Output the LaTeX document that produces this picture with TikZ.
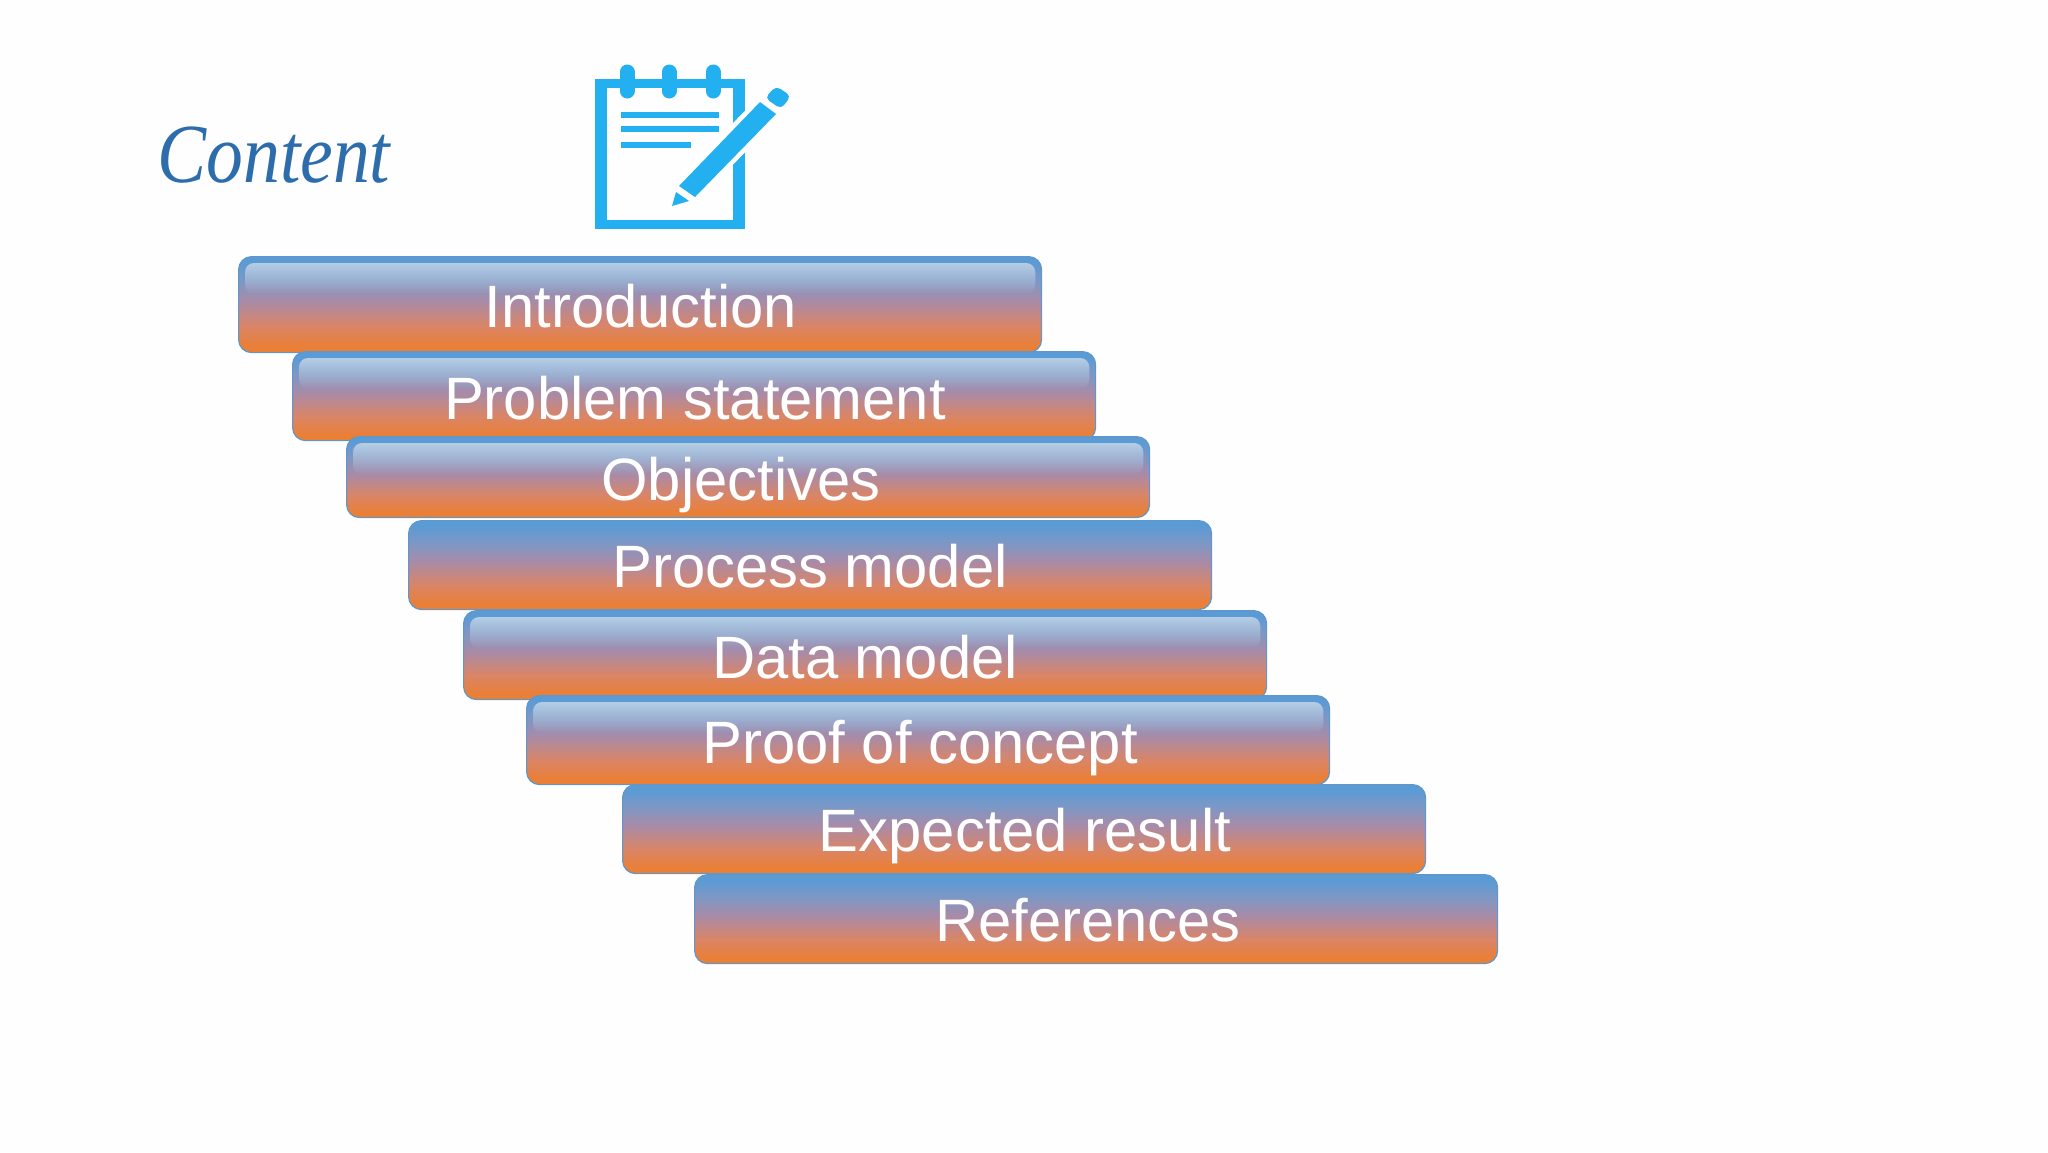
\documentclass[tikz,border=0pt]{standalone}
\usepackage{fontspec}
\usetikzlibrary{fadings}
\setmainfont{Liberation Sans}
\newfontfamily\titlefont{Liberation Serif}
\definecolor{iconblue}{HTML}{22B0F0}
\definecolor{titleblue}{HTML}{2E6DAB}
\definecolor{barblue}{HTML}{5B9BD5}
\definecolor{barblend}{HTML}{7F97C4}
\definecolor{barpurple}{HTML}{A88BA8}
\definecolor{barsalmon}{HTML}{D98568}
\definecolor{barorange}{HTML}{EA7F36}
\definecolor{glosstint}{HTML}{DCE3EC}
\definecolor{paperwhite}{HTML}{FEFEFE}
\pgfdeclareverticalshading{bargrad}{100bp}{
  color(0bp)=(barorange); color(25bp)=(barorange); color(28bp)=(barorange);
  color(39bp)=(barsalmon); color(52bp)=(barpurple); color(62bp)=(barblend);
  color(72bp)=(barblue); color(100bp)=(barblue)}
\tikzfading[name=glossfade, top color=transparent!30, bottom color=transparent!100]
\tikzset{
  x=0.5pt, y=-0.5pt,
  barbox/.style={rectangle, rounded corners=6.5pt, shading=bargrad, draw=barblue!85!gray,
    line width=0.6pt, minimum width=401.5pt, inner sep=0pt, anchor=north west},
  barlabel/.style={text=white, font=\fontsize{29.9}{32}\selectfont, anchor=base, inner sep=0pt},
  gloss/.style={fill=glosstint, path fading=glossfade, rounded corners=4.5pt},
  icon/.style={draw=iconblue, line width=5pt},
  ruleline/.style={draw=iconblue, line width=2.8pt},
  ring/.style={draw=iconblue, line width=7.5pt, line cap=round},
}
\newcommand{\glossover}[1]{\fill[gloss] ([shift={(7,7)}]#1.north west) rectangle ([shift={(-7,38)}]#1.north east);}
\begin{document}
\begin{tikzpicture}
\useasboundingbox (0,0) rectangle (2048,1152);
\fill[paperwhite] (0,0) rectangle (2048,1152);

\node[text=titleblue, font=\titlefont\itshape\fontsize{42}{46}\selectfont, anchor=base west, inner sep=0pt, xscale=0.876] (title) at (157,182) {Content};

% notepad
\draw[iconblue, line width=0pt, fill=iconblue, even odd rule]
  (595,79) rectangle (744,228) (606,87) rectangle (733,220);
\draw[ring] (627,72) -- (627,91);
\draw[ring] (669,72) -- (669,91);
\draw[ring] (713,72) -- (713,91);
\draw[ruleline] (621,115) -- (719,115);
\draw[ruleline] (621,129) -- (719,129);
\draw[ruleline] (621,145) -- (691,145);
% pencil
\draw[white, line width=14.5pt] (690,188) -- (766,110);
\fill[iconblue] (679,186) -- (695,197) -- (776,114) -- (760,102) -- cycle;
\fill[iconblue, rounded corners=2.5pt] (765,98) -- (776,86) -- (791,96) -- (781,109) -- cycle;
\fill[iconblue] (676,192) -- (689,201) -- (672,206) -- cycle;

% bars
\node[barbox, minimum height=48pt] (b1) at (238,256) {};
\glossover{b1}
\node[barbox, minimum height=44.5pt] (b2) at (292,351) {};
\glossover{b2}
\node[barbox, minimum height=40.5pt] (b3) at (346,436) {};
\glossover{b3}
\node[barbox, minimum height=44.5pt] (b4) at (408,520) {};
\node[barbox, minimum height=44.5pt] (b5) at (463,610) {};
\glossover{b5}
\node[barbox, minimum height=44.5pt] (b6) at (526,695) {};
\glossover{b6}
\node[barbox, minimum height=44.5pt] (b7) at (622,784) {};
\node[barbox, minimum height=44.5pt] (b8) at (694,874) {};

\node[barlabel] (t1) at (641,327) {Introduction};
\node[barlabel] (t2) at (695,419) {Problem statement};
\node[barlabel] (t3) at (741,500) {Objectives};
\node[barlabel] (t4) at (810,587) {Process model};
\node[barlabel] (t5) at (865,678) {Data model};
\node[barlabel] (t6) at (920,763) {Proof of concept};
\node[barlabel] (t7) at (1025,851) {Expected result};
\node[barlabel] (t8) at (1088,941) {References};
\end{tikzpicture}
\end{document}
